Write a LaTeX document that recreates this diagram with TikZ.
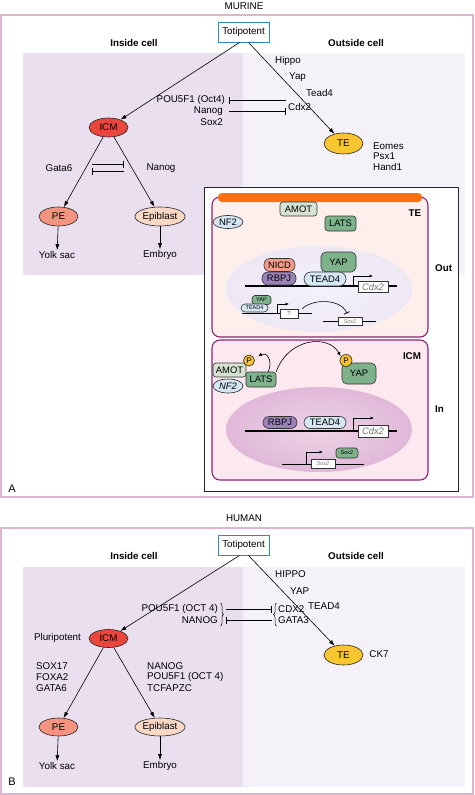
\documentclass[tikz,border=0pt]{standalone}
\usepackage{fontspec}
\setmainfont{Liberation Sans}
\usepackage{tikz}
\usetikzlibrary{shapes.geometric,arrows.meta,decorations.pathreplacing}

\definecolor{insidebg}{HTML}{E9DFEE}
\definecolor{outsidebg}{HTML}{F5F1F8}
\definecolor{panelborder}{HTML}{DDB5CF}
\definecolor{totiblue}{HTML}{2A8BC0}
\definecolor{icmred}{HTML}{E9473D}
\definecolor{teyellow}{HTML}{F8C630}
\definecolor{pesalmon}{HTML}{F49480}
\definecolor{epipeach}{HTML}{F9D8C6}
\definecolor{cellmag}{HTML}{8E2273}
\definecolor{tefill}{HTML}{FDEFEC}
\definecolor{icmfill}{HTML}{FCE8EE}
\definecolor{barorange}{HTML}{FF7010}
\definecolor{amotgray}{HTML}{D6E3D3}
\definecolor{latsgreen}{HTML}{7EB28B}
\definecolor{nfblue}{HTML}{D4E7F3}
\definecolor{nicdsalmon}{HTML}{F29C8C}
\definecolor{rbpjpurple}{HTML}{9B83B9}
\definecolor{pyellow}{HTML}{F6C431}
\definecolor{nucteIn}{HTML}{F5F2FA}
\definecolor{nucteMid}{HTML}{ECE6F4}
\definecolor{nucteOut}{HTML}{DDD4EC}
\definecolor{nucicmIn}{HTML}{EED3E6}
\definecolor{nucicmMid}{HTML}{DDB3D5}
\definecolor{nucicmOut}{HTML}{BF88BC}

\pgfdeclareradialshading{nucte}{\pgfpoint{0bp}{0bp}}{color(0bp)=(nucteIn); color(30bp)=(nucteMid); color(50bp)=(nucteOut)}
\pgfdeclareradialshading{nucicm}{\pgfpoint{0bp}{0bp}}{color(0bp)=(nucicmIn); color(30bp)=(nucicmMid); color(50bp)=(nucicmOut)}

\begin{document}
\begin{tikzpicture}[x=1pt, y=-1pt,
		every node/.style={font=\fontsize{9.8}{11}\selectfont, inner sep=1pt},
		cell/.style={ellipse, draw=black!85, line width=0.6pt, inner sep=0pt},
		prot/.style={rectangle, rounded corners=3pt, draw=black!80, line width=0.6pt, inner sep=0pt, font=\fontsize{9.4}{10}\selectfont},
		tiny/.style={font=\fontsize{5.5}{6}\selectfont},
		gene/.style={rectangle, draw=black!80, fill=white, line width=0.5pt, inner sep=0pt, text=black!55, font=\fontsize{9.4}{10}\selectfont\itshape},
		sz/.style 2 args={minimum width=#1pt, minimum height=#2pt},
		arr/.style={-{Latex[length=6pt,width=4pt]}, line width=0.6pt},
		inh/.style={-{Bar[width=7pt,line width=0.8pt]}, line width=0.6pt},
		dna/.style={line width=1.6pt},
		prom/.style={-{Latex[length=3.5pt,width=3pt]}, line width=0.6pt},
		hd/.style={font=\fontsize{9.8}{11}\selectfont\bfseries}]
			\useasboundingbox (0,0) rectangle (474,795);
			
			% ---------- murine ----------
			\node (mur1) at (244,6) {MURINE};
			\fill[insidebg] (23,53) rectangle (243,275);
			\fill[outsidebg] (243,53) rectangle (465,275);
			\draw[panelborder, line width=2pt] (1,15) rectangle (472.5,497);
			
			\node[draw=totiblue, line width=1pt, fill=white, sz={51}{20}] (toti1) at (243.5,32) {Totipotent};
			\node[hd] (in1) at (134,43) {Inside cell};
			\node[hd] (out1) at (356,43) {Outside cell};
			
			\node[cell, fill=icmred, sz={39}{19}] (icm1) at (108.5,127.5) {ICM};
			\node[cell, fill=teyellow, sz={39}{21}] (te1) at (343.5,143.5) {TE};
			\node[cell, fill=pesalmon, sz={39}{19}] (pe1) at (58.5,216.5) {PE};
			\node[cell, fill=epipeach, sz={50}{19}] (epi1) at (160,216.5) {Epiblast};
			\node (yolk1) at (57,255) {Yolk sac};
			\node (emb1) at (160,255) {Embryo};
			
			\node[anchor=west] (hip1) at (274,61) {Hippo};
			\node[anchor=west] (yap1) at (288,77) {Yap};
			\node[anchor=west] (tead1) at (305,93) {Tead4};
			\node[anchor=east] (oct1) at (226,100) {POU5F1 (Oct4)};
			\node[anchor=east] (nan1) at (224,111.5) {Nanog};
			\node[anchor=east] (sox1) at (224,122) {Sox2};
			\node[anchor=west] (cdx1) at (287,107) {Cdx2};
			\node[anchor=west] (eom1) at (372,146) {Eomes};
			\node[anchor=west] (psx1) at (372,156.5) {Psx1};
			\node[anchor=west] (hand1) at (372,167) {Hand1};
			\node (gata1) at (59,168) {Gata6};
			\node (nan2) at (161,168) {Nanog};
			
			\path[arr] ([xshift=-4pt]toti1.south) edge (icm1);
			\path[arr] ([xshift=5pt]toti1.south) edge (te1);
			\path[arr] (icm1) edge (pe1);
			\path[arr] (icm1) edge (epi1);
			\path[arr] (pe1) edge (yolk1);
			\path[arr] (epi1) edge (emb1);
			\draw[inh] ([xshift=-1pt]cdx1.west |- oct1.east) -- ([xshift=3pt]oct1.east);
			\draw[inh] ([xshift=5pt]nan1.east) -- ([xshift=-1pt]cdx1.west |- nan1.east);
			
			\coordinate (mut1) at (92,164);
			\coordinate (mut2) at (124,164);
			\coordinate (mut3) at (124,171);
			\coordinate (mut4) at (92,171);
			\draw[inh] (mut1) -- (mut2);
			\draw[inh] (mut3) -- (mut4);
			
			% ---------- zoom box ----------
			\draw[black!85, fill=white, line width=0.8pt] (204,187) rectangle (458,491);
			\draw[cellmag, fill=tefill, line width=1.1pt, rounded corners=8pt] (212,197) rectangle (428,337);
			\draw[cellmag, fill=icmfill, line width=1.1pt, rounded corners=8pt] (212,340) rectangle (428,480);
			\fill[barorange, rounded corners=4pt] (218,193) rectangle (422,202);
			\shade[shading=nucte] (319,289) ellipse [x radius=93, y radius=43];
			\shade[shading=nucicm] (319,429.5) ellipse [x radius=93, y radius=42.5];
			
			\node[hd] (tel1) at (415,213) {TE};
			\node[hd, anchor=west] (outl1) at (434,268) {Out};
			\node[hd] (icml1) at (412,356) {ICM};
			\node[hd, anchor=west] (inl1) at (434,409) {In};
			
			% outside cell
			\node[prot, fill=amotgray, sz={37}{14}] (amot1) at (298.5,209) {AMOT};
			\node[prot, fill=latsgreen, sz={31}{15}] (lats1) at (340.5,223.5) {LATS};
			\node[cell, fill=nfblue, sz={30}{13}, font=\fontsize{9.4}{10}\selectfont] (nf1) at (228,222) {NF2};
			
			\draw[dna] (245,286) -- (397,286);
			\draw[prom] (353,286) |- (373,276);
			\node[prot, fill=nicdsalmon, rounded corners=6pt, sz={31}{13}] (nicd1) at (279.5,265) {NICD};
			\node[prot, fill=rbpjpurple, rounded corners=6pt, sz={34}{13}] (rbpj1) at (279,278.5) {RBPJ};
			\node[prot, fill=latsgreen, rounded corners=5pt, sz={35}{20}] (yapn1) at (338.5,262) {YAP};
			\node[prot, fill=nfblue, rounded corners=7pt, sz={42}{14}] (teadn1) at (325,279) {TEAD4};
			\node[gene, sz={30}{11}] (cdxg1) at (373,287) {Cdx2};
			
			\draw[line width=1pt] (242,313) -- (312,313);
			\draw[line width=1pt] (323,321.5) -- (376,321.5);
			\draw[prom] (277,313) |- (289,304);
			\node[prot, tiny, fill=latsgreen, rounded corners=3pt, sz={19}{9}] (yaps1) at (261.5,300) {YAP};
			\node[prot, tiny, fill=nfblue, rounded corners=4pt, sz={27}{8}] (teads1) at (254.5,308) {TEAD4};
			\node[gene, tiny, text=black!70, font=\fontsize{6}{6}\selectfont, sz={18}{9}] (qg1) at (289,313.5) {?};
			\node[gene, tiny, sz={24}{8}, font=\fontsize{5.5}{6}\selectfont\itshape] (soxg1) at (350,321.5) {Sox2};
			\draw[inh, -{Bar[width=6pt,line width=0.8pt]}] ([xshift=4pt]qg1.north east) .. controls (312,299) and (340,298) .. ([xshift=-3pt,yshift=4pt]soxg1.north);
			
			% inside cell
			\node[prot, fill=amotgray, sz={33}{14}] (amot2) at (229.5,370) {AMOT};
			\node[cell, fill=nfblue, sz={30}{14}, font=\fontsize{9.4}{10}\selectfont\itshape] (nf2) at (228,386) {NF2};
			\node[prot, fill=latsgreen, sz={30}{15}] (lats2) at (261,379.5) {LATS};
			\node[circle, draw=black!85, fill=pyellow, line width=0.6pt, inner sep=0pt, minimum size=11pt, font=\fontsize{8}{9}\selectfont] (p1) at (249,360.5) {P};
			\node[prot, fill=latsgreen, rounded corners=5pt, sz={34}{21}] (yapc2) at (359,373.5) {YAP};
			\node[circle, draw=black!85, fill=pyellow, line width=0.6pt, inner sep=0pt, minimum size=12pt, font=\fontsize{8}{9}\selectfont] (p2) at (346,360.5) {P};
			\draw[arr, -{Latex[length=4pt,width=3.5pt]}] ([xshift=-8pt]lats2.north east) .. controls +(5,-12) and +(8,-5) .. ([xshift=5pt]p1.north east);
			\draw[arr, -{Latex[length=4pt,width=3.5pt]}] (lats2.north east) .. controls +(12,-34) and +(-12,-22) .. ([xshift=-1pt]p2.north west);
			
			\draw[dna] (245,431) -- (397,431);
			\draw[prom] (353,431) |- (374,418);
			\node[prot, fill=rbpjpurple, rounded corners=6pt, sz={34}{12}] (rbpj2) at (280,422.5) {RBPJ};
			\node[prot, fill=nfblue, rounded corners=6pt, sz={42}{12}] (teadn2) at (325,422.5) {TEAD4};
			\node[gene, sz={30}{12}] (cdxg2) at (373,431) {Cdx2};
			\draw[line width=1pt] (282,464) -- (364,464);
			\draw[prom] (306,464) |- (323,452);
			\node[gene, sz={24}{9}, font=\fontsize{5.5}{6}\selectfont\itshape] (soxg2) at (323,463.5) {Sox2};
			\node[prot, tiny, fill=latsgreen, rounded corners=3pt, sz={22}{10}] (soxp2) at (347,453) {Sox2};
			
			\node[font=\fontsize{11}{12}\selectfont] (lblA) at (12,489) {A};
			
			% ---------- human ----------
			\node (hum1) at (244,518) {HUMAN};
			\fill[insidebg] (23,567) rectangle (243,787);
			\fill[outsidebg] (243,567) rectangle (465,787);
			\draw[panelborder, line width=2pt] (1,528) rectangle (472.5,794);
			
			\node[draw=totiblue, line width=1pt, fill=white, sz={51}{20}] (toti2) at (243.5,545) {Totipotent};
			\node[hd] (in2) at (134,556) {Inside cell};
			\node[hd] (out2) at (356,556) {Outside cell};
			
			\node[cell, fill=icmred, sz={39}{18}] (icm2) at (108.5,638.5) {ICM};
			\node[cell, fill=teyellow, sz={39}{20}] (te2) at (343.5,655) {TE};
			\node[cell, fill=pesalmon, sz={39}{18}] (pe2) at (58.5,727) {PE};
			\node[cell, fill=epipeach, sz={50}{18}] (epi2) at (160,727) {Epiblast};
			\node (yolk2) at (57,766) {Yolk sac};
			\node (emb2) at (160,766) {Embryo};
			\node (plur2) at (57.5,638) {Pluripotent};
			\node (ck2) at (379,654) {CK7};
			
			\node[anchor=west] (hip2) at (274,574) {HIPPO};
			\node[anchor=west] (yap2) at (289,591) {YAP};
			\node[anchor=west] (tead2) at (307,606) {TEAD4};
			\node[anchor=east] (oct2) at (219,609) {POU5F1 (OCT 4)};
			\node[anchor=east] (nan3) at (219,620) {NANOG};
			\node[anchor=west] (cdx2) at (277,609) {CDX2};
			\node[anchor=west] (gata2) at (277,620) {GATA3};
			\node[anchor=west] (sox3) at (35,666) {SOX17};
			\node[anchor=west] (fox3) at (35,677) {FOXA2};
			\node[anchor=west] (gata3) at (35,688) {GATA6};
			\node[anchor=west] (nan4) at (146,666) {NANOG};
			\node[anchor=west] (oct4) at (146,677) {POU5F1 (OCT 4)};
			\node[anchor=west] (tcf4) at (146,688) {TCFAPZC};
			
			\path[arr] ([xshift=-4pt]toti2.south) edge (icm2);
			\path[arr] ([xshift=5pt]toti2.south) edge (te2);
			\path[arr] (icm2) edge (pe2);
			\path[arr] (icm2) edge (epi2);
			\path[arr] (pe2) edge (yolk2);
			\path[arr] (epi2) edge (emb2);
			\draw[inh] ([xshift=7pt]oct2.east) -- ([xshift=-5pt]cdx2.west);
			\draw[inh] ([xshift=-5pt]gata2.west) -- ([xshift=7pt]nan3.east);
			\draw[decorate, decoration={brace, amplitude=3pt}, line width=0.5pt] (220.5,603) -- (220.5,626);
			\draw[decorate, decoration={brace, amplitude=3pt}, line width=0.5pt] (276.5,626) -- (276.5,603);
			
			\node[font=\fontsize{11}{12}\selectfont] (lblB) at (12,782) {B};
\end{tikzpicture}
\end{document}
